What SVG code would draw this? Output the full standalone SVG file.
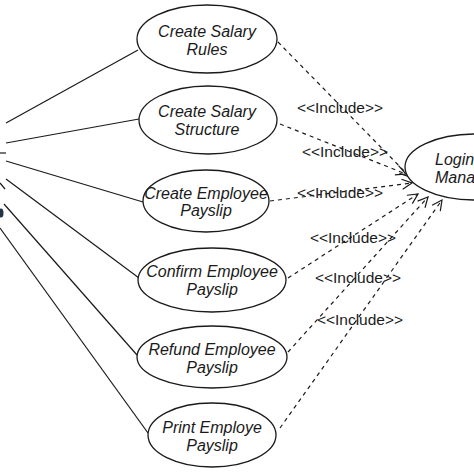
<svg xmlns="http://www.w3.org/2000/svg" width="474" height="474" viewBox="0 0 474 474">
<defs>
<style>
.uc{fill:#fff;stroke:#1a1a1a;stroke-width:1.3}
.t{font-family:"Liberation Sans",Arial,sans-serif;font-size:16px;font-style:italic;fill:#1a1a1a;text-anchor:middle}
.lbl{font-family:"Liberation Sans",Arial,sans-serif;font-size:15.5px;fill:#1a1a1a;text-anchor:middle}
.a{stroke:#1a1a1a;stroke-width:1.2;fill:none}
.d{stroke:#1a1a1a;stroke-width:1.2;fill:none;stroke-dasharray:4 4;marker-end:url(#arr)}
</style>
<marker id="arr" viewBox="0 0 12 12" refX="11" refY="6" markerWidth="12" markerHeight="12" markerUnits="userSpaceOnUse" orient="auto">
<path d="M1,1 L11,6 L1,11" fill="none" stroke="#1a1a1a" stroke-width="1.2"/>
</marker>
</defs>
<rect width="474" height="474" fill="#fff"/>
<g id="connectors">
<line class="a" x1="6" y1="123" x2="138" y2="50"/>
<line class="a" x1="6" y1="143" x2="139" y2="119"/>
<line class="a" x1="0" y1="153" x2="6" y2="153"/>
<line class="a" x1="6" y1="161" x2="143" y2="202"/>
<line class="a" x1="6" y1="179" x2="139" y2="278"/>
<line class="a" x1="0" y1="183" x2="5" y2="189"/>
<line class="a" x1="4" y1="204" x2="137" y2="355"/>
<line class="a" x1="0" y1="228" x2="148" y2="433"/>
<ellipse cx="1" cy="213" rx="2.5" ry="4.5" fill="#223344"/>
<line class="d" x1="278" y1="42" x2="410" y2="177"/>
<line class="d" x1="280" y1="124" x2="406" y2="174"/>
<line class="d" x1="270" y1="201" x2="412" y2="183"/>
<line class="d" x1="288" y1="278" x2="418" y2="194"/>
<line class="d" x1="288" y1="352" x2="428" y2="197"/>
<line class="d" x1="280" y1="428" x2="442" y2="200"/>
<text class="lbl" x="340" y="113">&lt;&lt;Include&gt;&gt;</text>
<text class="lbl" x="345" y="157">&lt;&lt;Include&gt;&gt;</text>
<text class="lbl" x="340" y="198">&lt;&lt;Include&gt;&gt;</text>
<text class="lbl" x="353" y="243">&lt;&lt;Include&gt;&gt;</text>
<text class="lbl" x="358" y="283">&lt;&lt;Include&gt;&gt;</text>
<text class="lbl" x="360" y="325">&lt;&lt;Include&gt;&gt;</text>
</g>
<g id="uc-rules">
<ellipse class="uc" cx="207" cy="39" rx="70" ry="34"/>
<text class="t" x="207" y="37">Create Salary</text>
<text class="t" x="207" y="55">Rules</text>
</g>
<g id="uc-structure">
<ellipse class="uc" cx="208" cy="120" rx="69" ry="34"/>
<text class="t" x="207" y="117">Create Salary</text>
<text class="t" x="207" y="135">Structure</text>
</g>
<g id="uc-create-payslip">
<ellipse class="uc" cx="206" cy="201" rx="63" ry="31"/>
<text class="t" x="206" y="199">Create Employee</text>
<text class="t" x="206" y="216">Payslip</text>
</g>
<g id="uc-confirm">
<ellipse class="uc" cx="212" cy="280" rx="74" ry="32"/>
<text class="t" x="212" y="277">Confirm Employee</text>
<text class="t" x="212" y="295">Payslip</text>
</g>
<g id="uc-refund">
<ellipse class="uc" cx="212" cy="357" rx="75" ry="31"/>
<text class="t" x="212" y="355">Refund Employee</text>
<text class="t" x="212" y="373">Payslip</text>
</g>
<g id="uc-print">
<ellipse class="uc" cx="212" cy="435" rx="64" ry="32"/>
<text class="t" x="212" y="433">Print Employe</text>
<text class="t" x="212" y="451">Payslip</text>
</g>
<g id="uc-login">
<ellipse class="uc" cx="475" cy="167" rx="70" ry="33"/>
<text class="t" x="435" y="165" style="text-anchor:start">Login</text>
<text class="t" x="435" y="183" style="text-anchor:start">Mana</text>
</g>
</svg>
